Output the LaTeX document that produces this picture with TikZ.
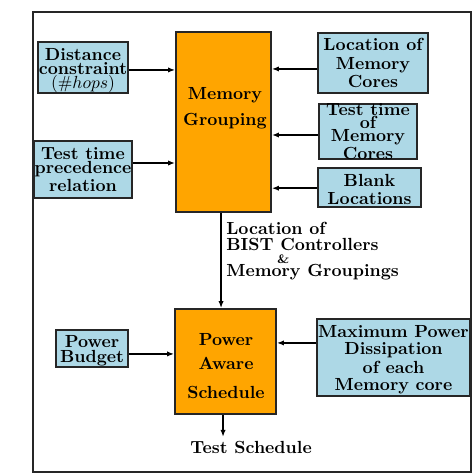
\documentclass[tikz,border=0pt]{standalone}
\usetikzlibrary{arrows.meta,calc}
\definecolor{boxblue}{HTML}{ADD8E6}
\definecolor{boxorange}{HTML}{FFA500}
\def\pu{0.57pt}
\begin{document}
\begin{tikzpicture}[x=0.57pt,y=-0.57pt,
  sz/.style 2 args={minimum width=#1*\pu, minimum height=#2*\pu},
  inbox/.style={draw=black!85, line width=1pt, fill=boxblue, inner sep=0pt, align=center},
  proc/.style={draw=black!85, line width=1pt, fill=boxorange, inner sep=0pt},
  txt/.style={inner sep=0pt, align=center},
  bs/.style={font=\bfseries\fontsize{10}{#1}\selectfont},
  arr/.style={-{Latex[length=4pt,width=3pt]}, line width=0.8pt}]
\useasboundingbox (0,0) rectangle (474,474);
\draw[line width=0.9pt, black!85] (33,12) rectangle (471,472);

% process boxes
\node[proc, sz={95}{180}] (mg) at (223.5,122) {};
\node[txt, bs=14.8pt] (mgt) at (225,108) {Memory\\Grouping};
\node[proc, sz={101}{105}] (pa) at (225.5,361.5) {};
\node[txt, bs=13.6pt] (pat) at (226,366) {Power\\Aware\\[2.9pt]Schedule};

% input boxes
\node[inbox, bs=8pt, sz={90}{47}] (dc) at (83,67.5) {\rule{0pt}{10.3pt}Distance\\constraint\\$(\#hops)$};
\node[inbox, bs=8pt, sz={98}{57}] (tp) at (83,169.5) {Test time\\precedence\\relation};
\node[inbox, bs=10.3pt, sz={110}{60}] (lm) at (373,63) {Location of\\Memory\\Cores};
\node[inbox, bs=7.4pt, sz={98}{53}] (tm) at (368,131.5) {Test time\\of\\Memory\\Cores};
\node[inbox, bs=10.3pt, sz={103}{39}] (bl) at (369.5,187.5) {\rule{0pt}{9.2pt}Blank\\Locations};
\node[inbox, bs=8.6pt, sz={72}{37}] (pb) at (92,348.5) {\rule{0pt}{9.2pt}Power\\Budget};
\node[inbox, bs=10pt, sz={153}{77}] (mp) at (393.5,357.5) {\rule{0pt}{9.2pt}Maximum Power\\Dissipation\\[0.5pt]of each\\Memory core};

% labels
\node[txt, bs=9.1pt, align=left, anchor=north west] (lbl) at (226,222)
  {Location of\\BIST Controllers\\[-1.6pt]\hspace*{29pt}{\scriptsize\&}\\[-1.6pt]Memory Groupings};
\node[txt, bs=12pt] (ts) at (251,447) {Test Schedule};

% connectors
\coordinate (a1) at ([yshift=-1.4pt]dc.east);
\draw[arr] (a1) -- (a1 -| mg.west);
\coordinate (a2) at ([yshift=3.7pt]tp.east);
\draw[arr] (a2) -- (a2 -| mg.west);
\coordinate (a3) at ([yshift=-3.4pt]lm.west);
\draw[arr] (a3) -- (a3 -| mg.east);
\coordinate (a4) at ([yshift=-2pt]tm.west);
\draw[arr] (a4) -- (a4 -| mg.east);
\coordinate (a5) at ([yshift=-0.4pt]bl.west);
\draw[arr] (a5) -- (a5 -| mg.east);
\coordinate (a6) at ([yshift=-3.1pt]pb.east);
\draw[arr] (a6) -- (a6 -| pa.west);
\coordinate (a7) at ([yshift=8.3pt]mp.west);
\draw[arr] (a7) -- (a7 -| pa.east);
\coordinate (v1) at ([xshift=-1.4pt]mg.south);
\draw[arr] (v1) -- (v1 |- pa.north);
\coordinate (v2) at ([xshift=-1.4pt]pa.south);
\draw[arr] (v2) -- ([yshift=2pt]v2 |- ts.north);
\end{tikzpicture}
\end{document}
